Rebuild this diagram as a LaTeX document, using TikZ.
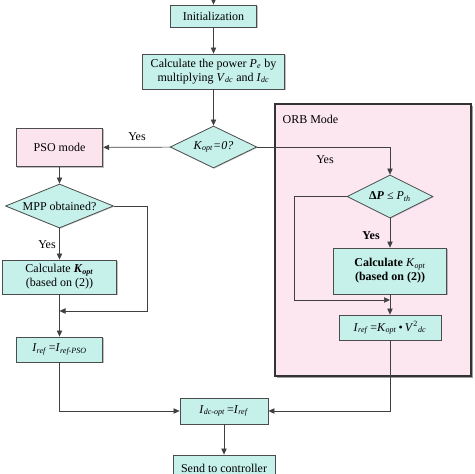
\documentclass[tikz,border=0pt]{standalone}
\usepackage{fontspec}
\setmainfont{Liberation Serif}
\usetikzlibrary{shapes.geometric, arrows.meta, shadows}
\definecolor{boxcyan}{HTML}{C6F0EA}
\definecolor{boxpink}{HTML}{FCE4EE}
\definecolor{framepink}{HTML}{FCE6F0}
\newcommand{\var}[2]{\textit{#1}\textsubscript{\textit{#2}}}

\tikzset{
  proc/.style={rectangle, draw=black!70, fill=boxcyan, line width=0.6pt,
    drop shadow={shadow xshift=0.8pt, shadow yshift=-0.8pt, fill=black!50},
    align=center, inner sep=1pt, font=\fontsize{9}{10.5}\selectfont},
  pinkproc/.style={proc, fill=boxpink},
  decision/.style={diamond, draw=black!70, fill=boxcyan, line width=0.6pt,
    drop shadow={shadow xshift=0.6pt, shadow yshift=-0.6pt, fill=black!40},
    inner sep=0pt, aspect=2.4, font=\fontsize{9}{10.5}\selectfont},
  flow/.style={-{Triangle[length=4.5pt, width=4pt]}, draw=black!75, line width=0.5pt},
  lbl/.style={font=\fontsize{9}{10.5}\selectfont, inner sep=1pt}
}

\begin{document}
\begin{tikzpicture}[x=0.75pt, y=-0.75pt]
  \useasboundingbox (0,0) rectangle (474,474);
  % ORB region
  \draw[draw=black!80, line width=0.8pt, fill=framepink,
    drop shadow={shadow xshift=1.6pt, shadow yshift=-1.6pt, fill=black!75}]
    (275,104) rectangle (471,376);
  \node[lbl, anchor=west] (orb) at (281,119) {ORB Mode};

  % centre column
  \node[proc, minimum width=65pt, minimum height=16.5pt] (init) at (213.5,16) {Initialization};
  \node[proc, minimum width=106.5pt, minimum height=26.25pt] (power) at (213.5,71.5)
    {Calculate the power \var{P}{e} by\\ multiplying \var{V}{dc} and \var{I}{dc}};
  \node[decision, minimum width=65pt, minimum height=31.5pt] (kopt) at (213.5,147) {\var{K}{opt}\textit{=0?}};

  % left column
  \node[pinkproc, minimum width=65pt, minimum height=29pt] (pso) at (59.5,147.5) {PSO mode};
  \node[decision, minimum width=81pt, minimum height=33pt, inner xsep=-4pt] (mpp) at (59.5,206) {MPP obtained?};
  \node[proc, minimum width=85.5pt, minimum height=25.5pt] (calcl) at (59.5,277)
    {Calculate \textbf{\var{K}{opt}}\\ (based on (2))};
  \node[proc, minimum width=65pt, minimum height=18.75pt] (irefpso) at (59.5,349.5)
    {\var{I}{ref}\,=\var{I}{ref-PSO}};

  % right column
  \node[decision, minimum width=64.5pt, minimum height=32.25pt] (dp) at (390,196.5)
    {\textbf{Δ\textit{P}} ≤ \var{P}{th}};
  \node[proc, minimum width=84.75pt, minimum height=34.5pt] (calcr) at (390,271)
    {\textbf{Calculate} \var{K}{opt}\\ \textbf{(based on (2))}};
  \node[proc, minimum width=76.5pt, minimum height=18.75pt] (irefr) at (390,327.5)
    {\var{I}{ref}\,=\var{K}{opt}\,•\,\textit{V}\textsuperscript{2}\textsubscript{\textit{dc}}};

  % bottom
  \node[proc, minimum width=66pt, minimum height=19.5pt] (idc) at (224,411) {\var{I}{dc-opt}\,=\var{I}{ref}};
  \node[proc, minimum width=76.5pt, minimum height=19.5pt] (send) at (224,468) {Send to controller};

  \coordinate (start) at (213.5,0);
  \coordinate (jl) at (59.5,311);
  \coordinate (jr) at (390,300);

  \draw[flow] (start) -- (init);
  \draw[flow] (init) -- (power);
  \draw[flow] (power) -- (kopt);
  \draw[flow] (kopt) -- (pso);
  \draw[flow] (kopt.east) -| (dp.north);
  \draw[flow] (pso) -- (mpp);
  \draw[flow] (mpp) -- (calcl);
  \draw[flow] (mpp.east) -- ++(33,0) |- (jl);
  \draw[flow] (calcl) -- (irefpso);
  \draw[flow] (irefpso) |- (idc);
  \draw[flow] (dp) -- (calcr);
  \draw[flow] (dp.west) -- ++(-52,0) |- (jr);
  \draw[flow] (calcr) -- (irefr);
  \draw[flow] (irefr) |- (idc);
  \draw[flow] (idc) -- (send);

  \node[lbl] (yes1) at (137,137) {Yes};
  \node[lbl] (yes2) at (325,160) {Yes};
  \node[lbl] (yes3) at (47,245) {Yes};
  \node[lbl, font=\fontsize{9}{10.5}\selectfont\bfseries] (yes4) at (371,236) {Yes};
\end{tikzpicture}
\end{document}
